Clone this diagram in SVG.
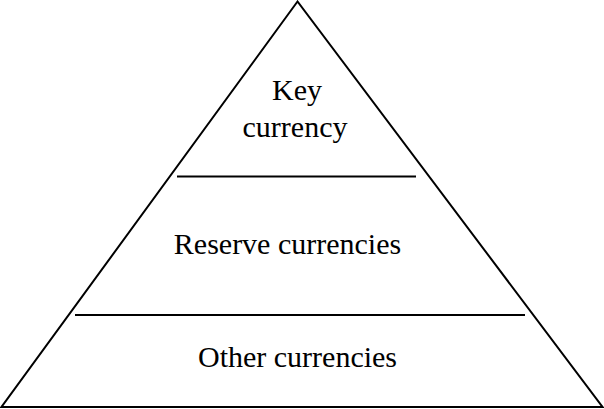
<svg xmlns="http://www.w3.org/2000/svg" width="604" height="409" viewBox="0 0 604 409">
<style>
.s{fill:none;stroke:#000;stroke-width:2}
.t{font-family:"Liberation Serif","Times New Roman",serif;font-size:30px;fill:#000;text-anchor:middle}
</style>
<rect width="604" height="409" fill="#fff"/>
<g id="pyramid">
<polygon class="s" points="297.5,1.5 1.5,407 602.5,407"/>
</g>
<g id="connectors">
<line class="s" x1="177" y1="176.5" x2="416" y2="176.5"/>
<line class="s" x1="75" y1="315" x2="525" y2="315"/>
</g>
<g id="key">
<text class="t" x="297" y="100">Key</text>
<text class="t" x="295" y="137">currency</text>
</g>
<g id="reserve">
<text class="t" x="287.5" y="254">Reserve currencies</text>
</g>
<g id="other">
<text class="t" x="297.5" y="367">Other currencies</text>
</g>
</svg>
